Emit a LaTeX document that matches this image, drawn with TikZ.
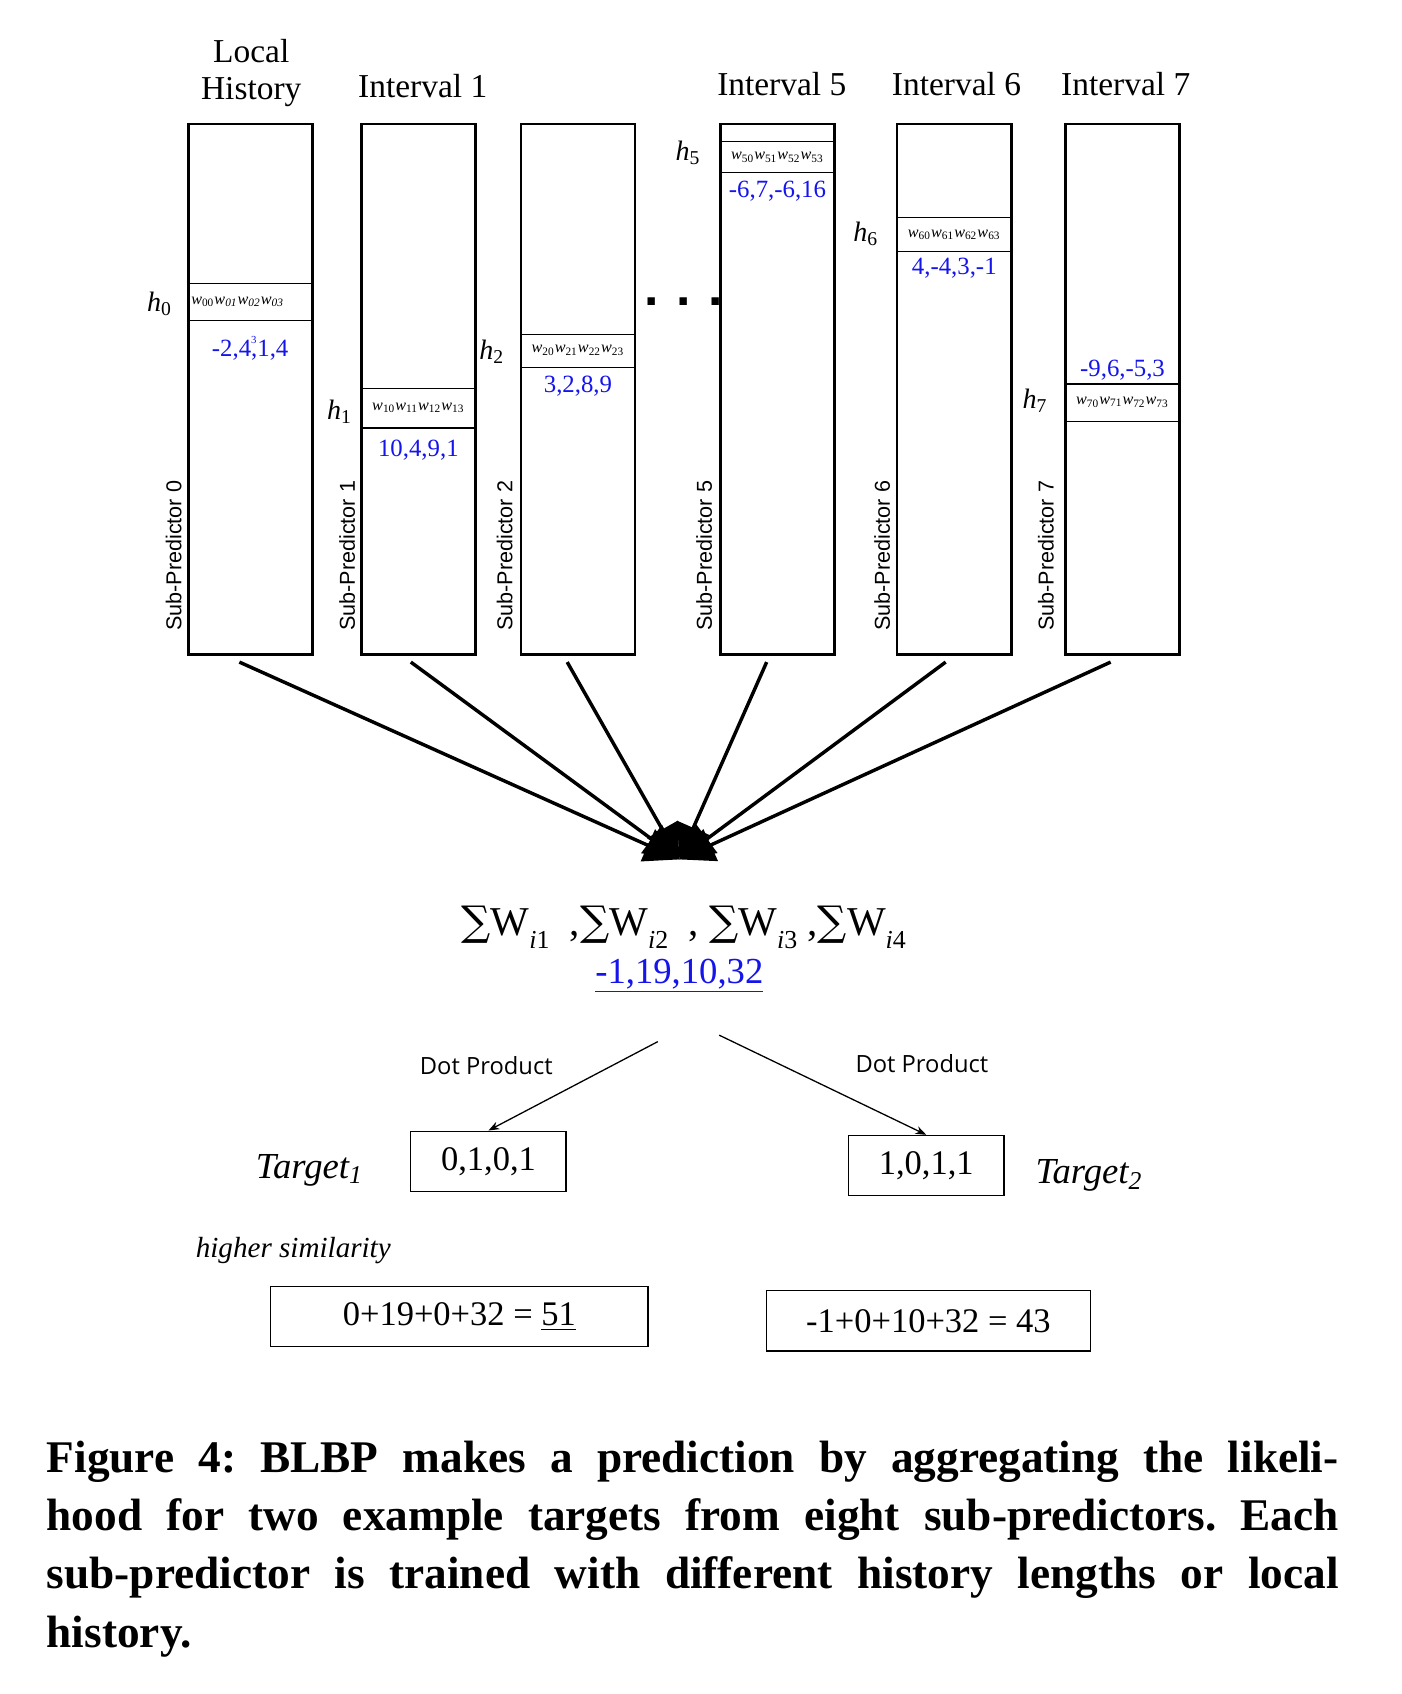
\documentclass[tikz,border=0pt]{standalone}
\usepackage{fontspec}
\setmainfont{Liberation Serif}
\setsansfont{Liberation Sans}
\newfontfamily\opensans{Open Sans}
\newfontfamily\symf{DejaVu Serif}
\usetikzlibrary{arrows.meta}
\definecolor{vblue}{RGB}{20,20,235}
\newcommand{\hsub}[2]{\textit{#1}\textsubscript{#2}}
\newcommand{\sumw}[1]{{\symf ∑}W\raisebox{-0.7ex}{\fontsize{12}{12}\selectfont\textit{i}#1}}
\begin{document}
\begin{tikzpicture}[x=0.5pt,y=-0.5pt,
  col/.style={draw,line width=1.2pt},
  row/.style={draw,line width=0.6pt},
  hd/.style={font=\fontsize{15.5}{18}\selectfont,align=center},
  wl/.style={font=\fontsize{7.5}{8}\selectfont,inner sep=0pt},
  val/.style={text=vblue,font=\fontsize{11.5}{12}\selectfont},
  hl/.style={font=\fontsize{13}{13}\selectfont},
  sp/.style={rotate=90,anchor=west,font=\sffamily\fontsize{10}{10}\selectfont},
  big/.style={line width=1.6pt,-{Triangle[length=16pt,width=16pt]}},
  thin/.style={line width=0.6pt,-{Stealth[length=5pt]}},
  bx/.style={draw,line width=0.6pt,minimum height=28pt,font=\fontsize{16}{18}\selectfont},
  tg/.style={font=\fontsize{17}{18}\selectfont\itshape}]
\useasboundingbox (0,0) rectangle (1300,1571);
% columns
\draw[col] (175,115) rectangle (290,607);
\draw[col] (335,115) rectangle (441,607);
\draw[col] (483,115) rectangle (589,607);
\draw[col] (668,115) rectangle (774,607);
\draw[col] (832,115) rectangle (938,607);
\draw[col] (988,115) rectangle (1094,607);
% rows
\draw[row] (175,263) rectangle (290,297);
\draw[row] (335,360) rectangle (441,397);
\draw[row] (483,310) rectangle (589,341);
\draw[row] (668,131) rectangle (774,160);
\draw[row] (832,202) rectangle (938,233);
\draw[row] (988,356) rectangle (1094,391);
% w labels
\begin{scope}
\clip (176,263) rectangle (289,297);
\node[wl,anchor=west] (w0) at (177,280) {\hsub{w}{00}\hsub{w}{\textit{01}}\hsub{w}{\textit{02}}\hsub{w}{\textit{03}}};
\end{scope}
\node[wl] (w1) at (388,378) {\hsub{w}{10}\hsub{w}{11}\hsub{w}{12}\hsub{w}{13}};
\node[wl] (w2) at (536,325) {\hsub{w}{20}\hsub{w}{21}\hsub{w}{22}\hsub{w}{23}};
\node[wl] (w5) at (721,146) {\hsub{w}{50}\hsub{w}{51}\hsub{w}{52}\hsub{w}{53}};
\node[wl] (w6) at (885,218) {\hsub{w}{60}\hsub{w}{61}\hsub{w}{62}\hsub{w}{63}};
\node[wl] (w7) at (1041,373) {\hsub{w}{70}\hsub{w}{71}\hsub{w}{72}\hsub{w}{73}};
% values
\node[val] (v0) at (232,323) {-2,4\rlap{\raisebox{1.2ex}{\tiny 3}},1,4};
\node[val] (v1) at (388,417) {10,4,9,1};
\node[val] (v2) at (536,358) {3,2,8,9};
\node[val] (v5) at (721,177) {-6,7,-6,16};
\node[val] (v6) at (885,249) {4,-4,3,-1};
\node[val] (v7) at (1041,343) {-9,6,-5,3};
% h labels
\node[hl] (h0) at (148,282) {\hsub{h}{0}};
\node[hl] (h1) at (315,382) {\hsub{h}{1}};
\node[hl] (h2) at (456,326) {\hsub{h}{2}};
\node[hl] (h5) at (638,142) {\hsub{h}{5}};
\node[hl] (h6) at (803,217) {\hsub{h}{6}};
\node[hl] (h7) at (960,372) {\hsub{h}{7}};
% sub-predictor labels
\node[sp] (s0) at (161,592) {Sub-Predictor 0};
\node[sp] (s1) at (322,592) {Sub-Predictor 1};
\node[sp] (s2) at (468,592) {Sub-Predictor 2};
\node[sp] (s5) at (653,592) {Sub-Predictor 5};
\node[sp] (s6) at (818,592) {Sub-Predictor 6};
\node[sp] (s7) at (970,592) {Sub-Predictor 7};
% headers
\node[hd] (t0) at (233,68) {Local\\[-1pt]History};
\node[hd] (t1) at (392,80) {Interval 1};
\node[hd] (t5) at (725,78) {Interval 5};
\node[hd] (t6) at (887,78) {Interval 6};
\node[hd] (t7) at (1044,78) {Interval 7};
\node[font=\sffamily\bfseries\fontsize{24}{24}\selectfont] (dots) at (634,280) {.\,\,.\,\,.};
% arrows
\coordinate (m) at (630,797);
\coordinate (a0) at (222,614);
\coordinate (a1) at (381,614);
\coordinate (a2) at (526,614);
\coordinate (a5) at (711,614);
\coordinate (a6) at (877,614);
\coordinate (a7) at (1030,614);
\foreach \a in {a0,a1,a2,a5,a6,a7} \draw[big] (\a) -- (m);
% sum
\node (sum) at (634,860) {\fontsize{19}{20}\selectfont \sumw{1}\ \ ,\sumw{2}\ \ ,\ \sumw{3}\ ,\sumw{4}};
\node[text=vblue] (res) at (630,905) {\fontsize{17}{18}\selectfont\underline{-1,19,10,32}};
% dot products
\node[bx,minimum width=72pt] (b1) at (453,1077) {0,1,0,1};
\node[bx,minimum width=72pt] (b2) at (859,1081) {1,0,1,1};
\coordinate (d1) at (610,966);
\coordinate (d2) at (667,960);
\draw[thin] (d1) -- (b1.north);
\draw[thin] (d2) -- (b2.north);
\node[font=\opensans\fontsize{11}{12}\selectfont] (dp1) at (451,988) {Dot Product};
\node[font=\opensans\fontsize{11}{12}\selectfont] (dp2) at (855,986) {Dot Product};
\node[tg] (tg1) at (287,1085) {Target\textsubscript{1}};
\node[tg] (tg2) at (1010,1090) {Target\textsubscript{2}};
\node[font=\fontsize{13.5}{14}\selectfont\itshape] (hs) at (272,1160) {higher similarity};
\node[bx,minimum width=175pt] (r1) at (426,1221) {0+19+0+32 = \underline{51}};
\node[bx,minimum width=150pt] (r2) at (861,1225) {-1+0+10+32 = 43};
% caption
\node[anchor=north west,inner sep=0pt,text width=599pt,align=justify,font=\fontsize{21}{27}\selectfont\bfseries\frenchspacing] (cap) at (43,1336) {Figure 4: BLBP makes a prediction by aggregating the likeli-\linebreak hood for two example targets from eight sub-predictors. Each\linebreak sub-predictor is trained with different history lengths or local\linebreak history.};
\end{tikzpicture}
\end{document}
